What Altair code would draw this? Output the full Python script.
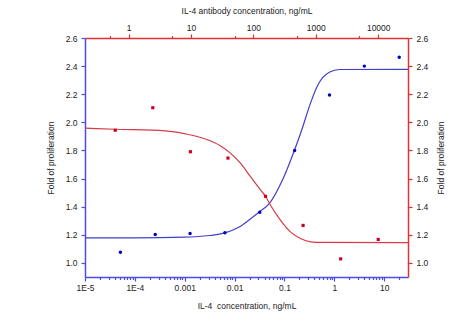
import altair as alt
import pandas as pd

# IL-4 concentration series (bottom axis, blue)
il4_conc = [0.0000512, 0.000256, 0.00128, 0.0064, 0.032, 0.16, 0.8, 4, 20]
il4_fold = [1.076, 1.203, 1.21, 1.214, 1.36, 1.80, 2.194, 2.40, 2.463]
il4_fit_x = [1e-5, 1e-4, 1e-3, 0.00316, 0.005, 0.0126, 0.0229, 0.0316, 0.05,
             0.0912, 0.158, 0.229, 0.316, 0.437, 0.575, 0.794, 1.26, 30]
il4_fit_y = [1.178, 1.178, 1.183, 1.195, 1.205, 1.257, 1.325, 1.364, 1.424,
             1.59, 1.80, 1.96, 2.114, 2.245, 2.317, 2.357, 2.376, 2.377]

# IL-4 antibody concentration series (top axis, red)
ab_conc = [0.61, 2.44, 9.77, 39.06, 156.25, 625, 2500, 10000]
ab_fold = [1.944, 2.104, 1.791, 1.746, 1.474, 1.267, 1.029, 1.167]
ab_fit_x = [0.2, 0.612, 3.87, 8.1, 16.9, 29.4, 42.7, 61.9, 89.7, 130, 158,
            187, 271, 392, 568, 823, 1190, 30000]
ab_fit_y = [1.959, 1.951, 1.939, 1.918, 1.882, 1.834, 1.781, 1.71, 1.614,
            1.519, 1.471, 1.412, 1.305, 1.221, 1.174, 1.15, 1.146, 1.145]

# axis ticks
bottom_ticks = [1e-5, 2e-5, 3e-5, 4e-5, 5e-5, 6e-5, 7e-5, 8e-5, 9e-5,
                1e-4, 2e-4, 3e-4, 4e-4, 5e-4, 6e-4, 7e-4, 8e-4, 9e-4,
                0.001, 0.002, 0.003, 0.004, 0.005, 0.006, 0.007, 0.008, 0.009,
                0.01, 0.02, 0.03, 0.04, 0.05, 0.06, 0.07, 0.08, 0.09,
                0.1, 0.2, 0.3, 0.4, 0.5, 0.6, 0.7, 0.8, 0.9,
                1, 2, 3, 4, 5, 6, 7, 8, 9, 10, 20]
top_ticks = [0.5, 1, 5, 10, 50, 100, 500, 1000, 5000, 10000]
y_ticks = [1.0, 1.2, 1.4, 1.6, 1.8, 2.0, 2.2, 2.4, 2.6]

BLUE_AX = "#4b4bf0"
RED_AX = "#e03030"
BLUE_LINE = "#4040cc"
BLUE_PT = "#0000c0"
RED_LINE = "#d83a4a"
RED_PT = "#cc0022"

major = "abs(log(datum.value)/LN10 - round(log(datum.value)/LN10)) < 0.001"
tick_cond = {"condition": {"test": major, "value": 4}, "value": 2.5}

bottom_label = (f"{major} ? (datum.value < 0.0005 ? '1E' + round(log(datum.value)/LN10)"
                f" : format(datum.value, '~g')) : ''")
top_label = f"{major} ? format(datum.value, '~g') : ''"

df_b = pd.DataFrame({"x": il4_conc, "y": il4_fold})
df_bf = pd.DataFrame({"x": il4_fit_x, "y": il4_fit_y})
df_r = pd.DataFrame({"x": ab_conc, "y": ab_fold})
df_rf = pd.DataFrame({"x": ab_fit_x, "y": ab_fit_y})

xb = alt.X("x:Q", scale=alt.Scale(type="log", domain=[1e-5, 30], nice=False),
           axis=alt.Axis(orient="bottom", values=bottom_ticks, labelExpr=bottom_label,
                         title="IL-4\u00a0 concentration, ng/mL", domainColor=BLUE_AX,
                         tickColor=BLUE_AX, tickSize=tick_cond, labelPadding=2,
                         titlePadding=10))
yb = alt.Y("y:Q", scale=alt.Scale(domain=[0.9, 2.6], nice=False, zero=False),
           axis=alt.Axis(orient="left", values=y_ticks, format=".1f",
                         title="Fold of proliferation", domainColor=BLUE_AX,
                         tickColor=BLUE_AX, tickSize=4, labelPadding=4,
                         titlePadding=10))

xr = alt.X("x:Q", scale=alt.Scale(type="log", domain=[0.2, 30000], nice=False),
           axis=alt.Axis(orient="top", values=top_ticks, labelExpr=top_label,
                         title="IL-4 antibody concentration, ng/mL", domainColor=RED_AX,
                         tickColor=RED_AX, tickSize=tick_cond, labelPadding=2,
                         titlePadding=8))
yr = alt.Y("y:Q", scale=alt.Scale(domain=[0.9, 2.6], nice=False, zero=False),
           axis=alt.Axis(orient="right", values=y_ticks, format=".1f",
                         title="Fold of proliferation", domainColor=RED_AX,
                         tickColor=RED_AX, tickSize=4, labelPadding=4,
                         titlePadding=18, titleAngle=270))

blue_line = alt.Chart(df_bf).mark_line(color=BLUE_LINE, strokeWidth=1.2,
                                       interpolate="monotone").encode(x=xb, y=yb)
blue_pts = alt.Chart(df_b).mark_point(shape="circle", filled=True, size=12,
                                      opacity=1, color=BLUE_PT).encode(x=xb, y=yb)
red_line = alt.Chart(df_rf).mark_line(color=RED_LINE, strokeWidth=1.2,
                                      interpolate="monotone").encode(x=xr, y=yr)
red_pts = alt.Chart(df_r).mark_point(shape="square", filled=True, size=10,
                                     opacity=1, color=RED_PT).encode(x=xr, y=yr)

blue = alt.layer(blue_line, blue_pts)
red = alt.layer(red_line, red_pts)

chart = alt.layer(blue, red).resolve_scale(
    x="independent", y="independent"
).properties(
    width=323, height=239,
    autosize=alt.AutoSizeParams(type="none"),
    padding={"left": 85, "top": 38, "right": 66, "bottom": 55},
    background="white",
).configure_view(strokeWidth=0).configure_axis(
    labelFont="Liberation Sans", titleFont="Liberation Sans",
    labelFontSize=8.5, titleFontSize=8.5, titleFontWeight="normal",
    labelColor="#222222", titleColor="#222222", grid=False,
    domainWidth=1.5, tickWidth=1.2, labelFlush=False, labelOverlap=False,
)

chart.save("out.html", embed_options={"renderer": "svg", "actions": False})
